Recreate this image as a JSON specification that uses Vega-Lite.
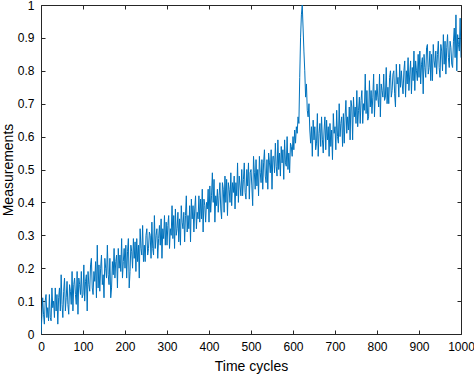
{
"$schema": "https://vega.github.io/schema/vega-lite/v6.json",
"width": 420, "height": 329,
"autosize": {"type": "none"},
"padding": {"left": 41, "top": 5, "right": 13, "bottom": 40},
"background": "white",
"config": {"view": {"stroke": null}, "font": "Liberation Sans"},
"data": {"values": [
{"t":0,"v":0.00},{"t":2,"v":0.05},{"t":4,"v":0.11},{"t":6,"v":0.06},{"t":8,"v":0.03},
{"t":10,"v":0.10},{"t":12,"v":0.12},{"t":14,"v":0.05},{"t":16,"v":0.08},{"t":18,"v":0.04},
{"t":20,"v":0.12},{"t":22,"v":0.05},{"t":24,"v":0.04},{"t":26,"v":0.14},{"t":28,"v":0.08},
{"t":30,"v":0.10},{"t":32,"v":0.05},{"t":34,"v":0.14},{"t":36,"v":0.07},{"t":38,"v":0.12},
{"t":40,"v":0.03},{"t":42,"v":0.11},{"t":44,"v":0.14},{"t":46,"v":0.07},{"t":48,"v":0.18},
{"t":50,"v":0.09},{"t":52,"v":0.05},{"t":54,"v":0.13},{"t":56,"v":0.17},{"t":58,"v":0.07},
{"t":60,"v":0.11},{"t":62,"v":0.16},{"t":64,"v":0.09},{"t":66,"v":0.06},{"t":68,"v":0.15},
{"t":70,"v":0.13},{"t":72,"v":0.09},{"t":74,"v":0.19},{"t":76,"v":0.07},{"t":78,"v":0.15},
{"t":80,"v":0.17},{"t":82,"v":0.12},{"t":84,"v":0.09},{"t":86,"v":0.19},{"t":88,"v":0.06},
{"t":90,"v":0.17},{"t":92,"v":0.15},{"t":94,"v":0.12},{"t":96,"v":0.19},{"t":98,"v":0.11},
{"t":100,"v":0.12},{"t":102,"v":0.21},{"t":104,"v":0.10},{"t":106,"v":0.16},{"t":108,"v":0.18},
{"t":110,"v":0.07},{"t":112,"v":0.19},{"t":114,"v":0.15},{"t":116,"v":0.13},{"t":118,"v":0.21},
{"t":120,"v":0.23},{"t":122,"v":0.14},{"t":124,"v":0.12},{"t":126,"v":0.19},{"t":128,"v":0.16},
{"t":130,"v":0.22},{"t":132,"v":0.11},{"t":134,"v":0.27},{"t":136,"v":0.14},{"t":138,"v":0.21},
{"t":140,"v":0.13},{"t":142,"v":0.20},{"t":144,"v":0.24},{"t":146,"v":0.15},{"t":148,"v":0.18},
{"t":150,"v":0.11},{"t":152,"v":0.23},{"t":154,"v":0.20},{"t":156,"v":0.17},{"t":158,"v":0.27},
{"t":160,"v":0.18},{"t":162,"v":0.15},{"t":164,"v":0.23},{"t":166,"v":0.11},{"t":168,"v":0.14},
{"t":170,"v":0.22},{"t":172,"v":0.18},{"t":174,"v":0.26},{"t":176,"v":0.17},{"t":178,"v":0.22},
{"t":180,"v":0.24},{"t":182,"v":0.14},{"t":184,"v":0.26},{"t":186,"v":0.20},{"t":188,"v":0.24},
{"t":190,"v":0.19},{"t":192,"v":0.29},{"t":194,"v":0.17},{"t":196,"v":0.22},{"t":198,"v":0.26},
{"t":200,"v":0.20},{"t":202,"v":0.27},{"t":204,"v":0.17},{"t":206,"v":0.25},{"t":208,"v":0.29},
{"t":210,"v":0.14},{"t":212,"v":0.19},{"t":214,"v":0.27},{"t":216,"v":0.25},{"t":218,"v":0.20},
{"t":220,"v":0.29},{"t":222,"v":0.23},{"t":224,"v":0.28},{"t":226,"v":0.19},{"t":228,"v":0.29},
{"t":230,"v":0.22},{"t":232,"v":0.27},{"t":234,"v":0.17},{"t":236,"v":0.32},{"t":238,"v":0.26},
{"t":240,"v":0.24},{"t":242,"v":0.33},{"t":244,"v":0.22},{"t":246,"v":0.27},{"t":248,"v":0.22},
{"t":250,"v":0.30},{"t":252,"v":0.32},{"t":254,"v":0.24},{"t":256,"v":0.26},{"t":258,"v":0.31},
{"t":260,"v":0.30},{"t":262,"v":0.23},{"t":264,"v":0.34},{"t":266,"v":0.26},{"t":268,"v":0.24},
{"t":270,"v":0.36},{"t":272,"v":0.26},{"t":274,"v":0.30},{"t":276,"v":0.32},{"t":278,"v":0.23},
{"t":280,"v":0.29},{"t":282,"v":0.33},{"t":284,"v":0.27},{"t":286,"v":0.35},{"t":288,"v":0.23},
{"t":290,"v":0.32},{"t":292,"v":0.29},{"t":294,"v":0.36},{"t":296,"v":0.27},{"t":298,"v":0.34},
{"t":300,"v":0.27},{"t":302,"v":0.33},{"t":304,"v":0.36},{"t":306,"v":0.26},{"t":308,"v":0.32},
{"t":310,"v":0.30},{"t":312,"v":0.39},{"t":314,"v":0.29},{"t":316,"v":0.36},{"t":318,"v":0.26},
{"t":320,"v":0.38},{"t":322,"v":0.30},{"t":324,"v":0.32},{"t":326,"v":0.37},{"t":328,"v":0.28},
{"t":330,"v":0.35},{"t":332,"v":0.27},{"t":334,"v":0.39},{"t":336,"v":0.34},{"t":338,"v":0.32},
{"t":340,"v":0.37},{"t":342,"v":0.28},{"t":344,"v":0.36},{"t":346,"v":0.42},{"t":348,"v":0.31},
{"t":350,"v":0.36},{"t":352,"v":0.32},{"t":354,"v":0.39},{"t":356,"v":0.28},{"t":358,"v":0.41},
{"t":360,"v":0.35},{"t":362,"v":0.39},{"t":364,"v":0.31},{"t":366,"v":0.38},{"t":368,"v":0.42},
{"t":370,"v":0.32},{"t":372,"v":0.37},{"t":374,"v":0.35},{"t":376,"v":0.42},{"t":378,"v":0.34},
{"t":380,"v":0.41},{"t":382,"v":0.35},{"t":384,"v":0.44},{"t":386,"v":0.31},{"t":388,"v":0.41},
{"t":390,"v":0.39},{"t":392,"v":0.34},{"t":394,"v":0.40},{"t":396,"v":0.38},{"t":398,"v":0.44},
{"t":400,"v":0.34},{"t":402,"v":0.45},{"t":404,"v":0.37},{"t":406,"v":0.42},{"t":408,"v":0.49},
{"t":410,"v":0.40},{"t":412,"v":0.47},{"t":414,"v":0.34},{"t":416,"v":0.42},{"t":418,"v":0.39},
{"t":420,"v":0.44},{"t":422,"v":0.37},{"t":424,"v":0.42},{"t":426,"v":0.46},{"t":428,"v":0.38},
{"t":430,"v":0.35},{"t":432,"v":0.46},{"t":434,"v":0.44},{"t":436,"v":0.37},{"t":438,"v":0.48},
{"t":440,"v":0.40},{"t":442,"v":0.47},{"t":444,"v":0.36},{"t":446,"v":0.46},{"t":448,"v":0.44},
{"t":450,"v":0.40},{"t":452,"v":0.49},{"t":454,"v":0.39},{"t":456,"v":0.46},{"t":458,"v":0.43},
{"t":460,"v":0.48},{"t":462,"v":0.38},{"t":464,"v":0.46},{"t":466,"v":0.42},{"t":468,"v":0.52},
{"t":470,"v":0.40},{"t":472,"v":0.48},{"t":474,"v":0.45},{"t":476,"v":0.42},{"t":478,"v":0.50},
{"t":480,"v":0.42},{"t":482,"v":0.47},{"t":484,"v":0.52},{"t":486,"v":0.43},{"t":488,"v":0.41},
{"t":490,"v":0.50},{"t":492,"v":0.45},{"t":494,"v":0.52},{"t":496,"v":0.41},{"t":498,"v":0.49},
{"t":500,"v":0.50},{"t":502,"v":0.45},{"t":504,"v":0.39},{"t":506,"v":0.54},{"t":508,"v":0.49},
{"t":510,"v":0.44},{"t":512,"v":0.53},{"t":514,"v":0.45},{"t":516,"v":0.50},{"t":518,"v":0.42},
{"t":520,"v":0.54},{"t":522,"v":0.49},{"t":524,"v":0.46},{"t":526,"v":0.53},{"t":528,"v":0.44},
{"t":530,"v":0.52},{"t":532,"v":0.56},{"t":534,"v":0.48},{"t":536,"v":0.46},{"t":538,"v":0.53},
{"t":540,"v":0.44},{"t":542,"v":0.55},{"t":544,"v":0.52},{"t":546,"v":0.49},{"t":548,"v":0.56},
{"t":550,"v":0.44},{"t":552,"v":0.54},{"t":554,"v":0.54},{"t":556,"v":0.49},{"t":558,"v":0.58},
{"t":560,"v":0.51},{"t":562,"v":0.48},{"t":564,"v":0.59},{"t":566,"v":0.50},{"t":568,"v":0.55},
{"t":570,"v":0.48},{"t":572,"v":0.57},{"t":574,"v":0.52},{"t":576,"v":0.56},{"t":578,"v":0.47},
{"t":580,"v":0.59},{"t":582,"v":0.52},{"t":584,"v":0.51},{"t":586,"v":0.60},{"t":588,"v":0.50},
{"t":590,"v":0.55},{"t":592,"v":0.49},{"t":594,"v":0.58},{"t":596,"v":0.57},{"t":598,"v":0.54},
{"t":600,"v":0.60},{"t":602,"v":0.56},{"t":604,"v":0.62},{"t":606,"v":0.58},{"t":608,"v":0.63},
{"t":610,"v":0.61},{"t":612,"v":0.66},{"t":614,"v":0.64},{"t":616,"v":0.78},{"t":618,"v":0.90},
{"t":620,"v":0.97},{"t":622,"v":1.00},{"t":624,"v":0.93},{"t":626,"v":0.86},{"t":628,"v":0.80},
{"t":630,"v":0.72},{"t":632,"v":0.76},{"t":634,"v":0.68},{"t":636,"v":0.66},{"t":638,"v":0.70},
{"t":640,"v":0.62},{"t":642,"v":0.58},{"t":644,"v":0.63},{"t":646,"v":0.54},{"t":648,"v":0.65},
{"t":650,"v":0.59},{"t":652,"v":0.63},{"t":654,"v":0.56},{"t":656,"v":0.58},{"t":658,"v":0.67},
{"t":660,"v":0.54},{"t":662,"v":0.61},{"t":664,"v":0.64},{"t":666,"v":0.57},{"t":668,"v":0.66},
{"t":670,"v":0.59},{"t":672,"v":0.55},{"t":674,"v":0.62},{"t":676,"v":0.66},{"t":678,"v":0.56},
{"t":680,"v":0.65},{"t":682,"v":0.59},{"t":684,"v":0.63},{"t":686,"v":0.54},{"t":688,"v":0.64},
{"t":690,"v":0.57},{"t":692,"v":0.62},{"t":694,"v":0.53},{"t":696,"v":0.67},{"t":698,"v":0.61},
{"t":700,"v":0.63},{"t":702,"v":0.56},{"t":704,"v":0.68},{"t":706,"v":0.60},{"t":708,"v":0.58},
{"t":710,"v":0.70},{"t":712,"v":0.60},{"t":714,"v":0.64},{"t":716,"v":0.66},{"t":718,"v":0.57},
{"t":720,"v":0.67},{"t":722,"v":0.58},{"t":724,"v":0.66},{"t":726,"v":0.71},{"t":728,"v":0.61},
{"t":730,"v":0.66},{"t":732,"v":0.62},{"t":734,"v":0.69},{"t":736,"v":0.59},{"t":738,"v":0.71},
{"t":740,"v":0.69},{"t":742,"v":0.59},{"t":744,"v":0.72},{"t":746,"v":0.66},{"t":748,"v":0.69},
{"t":750,"v":0.64},{"t":752,"v":0.74},{"t":754,"v":0.63},{"t":756,"v":0.68},{"t":758,"v":0.72},
{"t":760,"v":0.64},{"t":762,"v":0.71},{"t":764,"v":0.74},{"t":766,"v":0.64},{"t":768,"v":0.70},
{"t":770,"v":0.68},{"t":772,"v":0.79},{"t":774,"v":0.67},{"t":776,"v":0.74},{"t":778,"v":0.65},
{"t":780,"v":0.66},{"t":782,"v":0.77},{"t":784,"v":0.69},{"t":786,"v":0.74},{"t":788,"v":0.67},
{"t":790,"v":0.72},{"t":792,"v":0.79},{"t":794,"v":0.66},{"t":796,"v":0.74},{"t":798,"v":0.71},
{"t":800,"v":0.76},{"t":802,"v":0.72},{"t":804,"v":0.69},{"t":806,"v":0.79},{"t":808,"v":0.66},
{"t":810,"v":0.76},{"t":812,"v":0.74},{"t":814,"v":0.72},{"t":816,"v":0.79},{"t":818,"v":0.71},
{"t":820,"v":0.72},{"t":822,"v":0.81},{"t":824,"v":0.70},{"t":826,"v":0.75},{"t":828,"v":0.70},
{"t":830,"v":0.78},{"t":832,"v":0.80},{"t":834,"v":0.72},{"t":836,"v":0.74},{"t":838,"v":0.79},
{"t":840,"v":0.80},{"t":842,"v":0.73},{"t":844,"v":0.69},{"t":846,"v":0.82},{"t":848,"v":0.76},
{"t":850,"v":0.78},{"t":852,"v":0.72},{"t":854,"v":0.82},{"t":856,"v":0.75},{"t":858,"v":0.80},
{"t":860,"v":0.76},{"t":862,"v":0.73},{"t":864,"v":0.80},{"t":866,"v":0.83},{"t":868,"v":0.72},
{"t":870,"v":0.80},{"t":872,"v":0.76},{"t":874,"v":0.84},{"t":876,"v":0.74},{"t":878,"v":0.79},
{"t":880,"v":0.83},{"t":882,"v":0.73},{"t":884,"v":0.81},{"t":886,"v":0.77},{"t":888,"v":0.86},
{"t":890,"v":0.74},{"t":892,"v":0.83},{"t":894,"v":0.80},{"t":896,"v":0.77},{"t":898,"v":0.85},
{"t":900,"v":0.78},{"t":902,"v":0.86},{"t":904,"v":0.76},{"t":906,"v":0.82},{"t":908,"v":0.84},
{"t":910,"v":0.73},{"t":912,"v":0.85},{"t":914,"v":0.81},{"t":916,"v":0.78},{"t":918,"v":0.87},
{"t":920,"v":0.88},{"t":922,"v":0.79},{"t":924,"v":0.81},{"t":926,"v":0.86},{"t":928,"v":0.77},
{"t":930,"v":0.85},{"t":932,"v":0.77},{"t":934,"v":0.88},{"t":936,"v":0.83},{"t":938,"v":0.81},
{"t":940,"v":0.86},{"t":942,"v":0.79},{"t":944,"v":0.85},{"t":946,"v":0.89},{"t":948,"v":0.81},
{"t":950,"v":0.78},{"t":952,"v":0.88},{"t":954,"v":0.86},{"t":956,"v":0.80},{"t":958,"v":0.91},
{"t":960,"v":0.82},{"t":962,"v":0.89},{"t":964,"v":0.79},{"t":966,"v":0.87},{"t":968,"v":0.91},
{"t":970,"v":0.84},{"t":972,"v":0.81},{"t":974,"v":0.89},{"t":976,"v":0.87},{"t":978,"v":0.82},
{"t":980,"v":0.81},{"t":982,"v":0.89},{"t":984,"v":0.93},{"t":986,"v":0.84},{"t":988,"v":0.97},
{"t":990,"v":0.80},{"t":992,"v":0.91},{"t":994,"v":0.88},{"t":996,"v":0.86},{"t":998,"v":0.96},
{"t":1000,"v":0.84}
]},
"layer": [
{
"mark": {"type": "line", "color": "#0072BD", "strokeWidth": 1, "clip": true},
"encoding": {
"x": {"field": "t", "type": "quantitative", "scale": {"domain": [0, 1000], "nice": false, "zero": false},
 "axis": {"orient": "bottom", "title": "Time cycles", "values": [0,100,200,300,400,500,600,700,800,900,1000], "format": "d",
  "grid": false, "domainColor": "#262626", "tickColor": "#262626", "tickSize": -4, "labelPadding": 11,
  "labelFontSize": 12, "labelColor": "#000", "labelFlush": false,
  "titleFontSize": 14, "titleFontWeight": "normal", "titleColor": "#000", "titleY": 32, "titleBaseline": "middle"}},
"y": {"field": "v", "type": "quantitative", "scale": {"domain": [0, 1], "nice": false},
 "axis": {"orient": "left", "title": "Measurements", "values": [0,0.1,0.2,0.3,0.4,0.5,0.6,0.7,0.8,0.9,1], "format": "~g",
  "grid": false, "domainColor": "#262626", "tickColor": "#262626", "tickSize": -4, "labelPadding": 11,
  "labelFontSize": 12, "labelColor": "#000", "labelFlush": false,
  "titleFontSize": 14, "titleFontWeight": "normal", "titleColor": "#000", "titleX": -33, "titleBaseline": "middle", "titleAlign": "center"}}
}
},
{
"mark": {"type": "line", "opacity": 0},
"encoding": {
"x": {"field": "t", "type": "quantitative",
 "axis": {"orient": "top", "title": null, "labels": false, "values": [0,100,200,300,400,500,600,700,800,900,1000],
  "grid": false, "domainColor": "#262626", "tickColor": "#262626", "tickSize": -4}},
"y": {"field": "v", "type": "quantitative",
 "axis": {"orient": "right", "title": null, "labels": false, "values": [0,0.1,0.2,0.3,0.4,0.5,0.6,0.7,0.8,0.9,1],
  "grid": false, "domainColor": "#262626", "tickColor": "#262626", "tickSize": -4}}
}
}
],
"resolve": {"axis": {"x": "independent", "y": "independent"}}
}
